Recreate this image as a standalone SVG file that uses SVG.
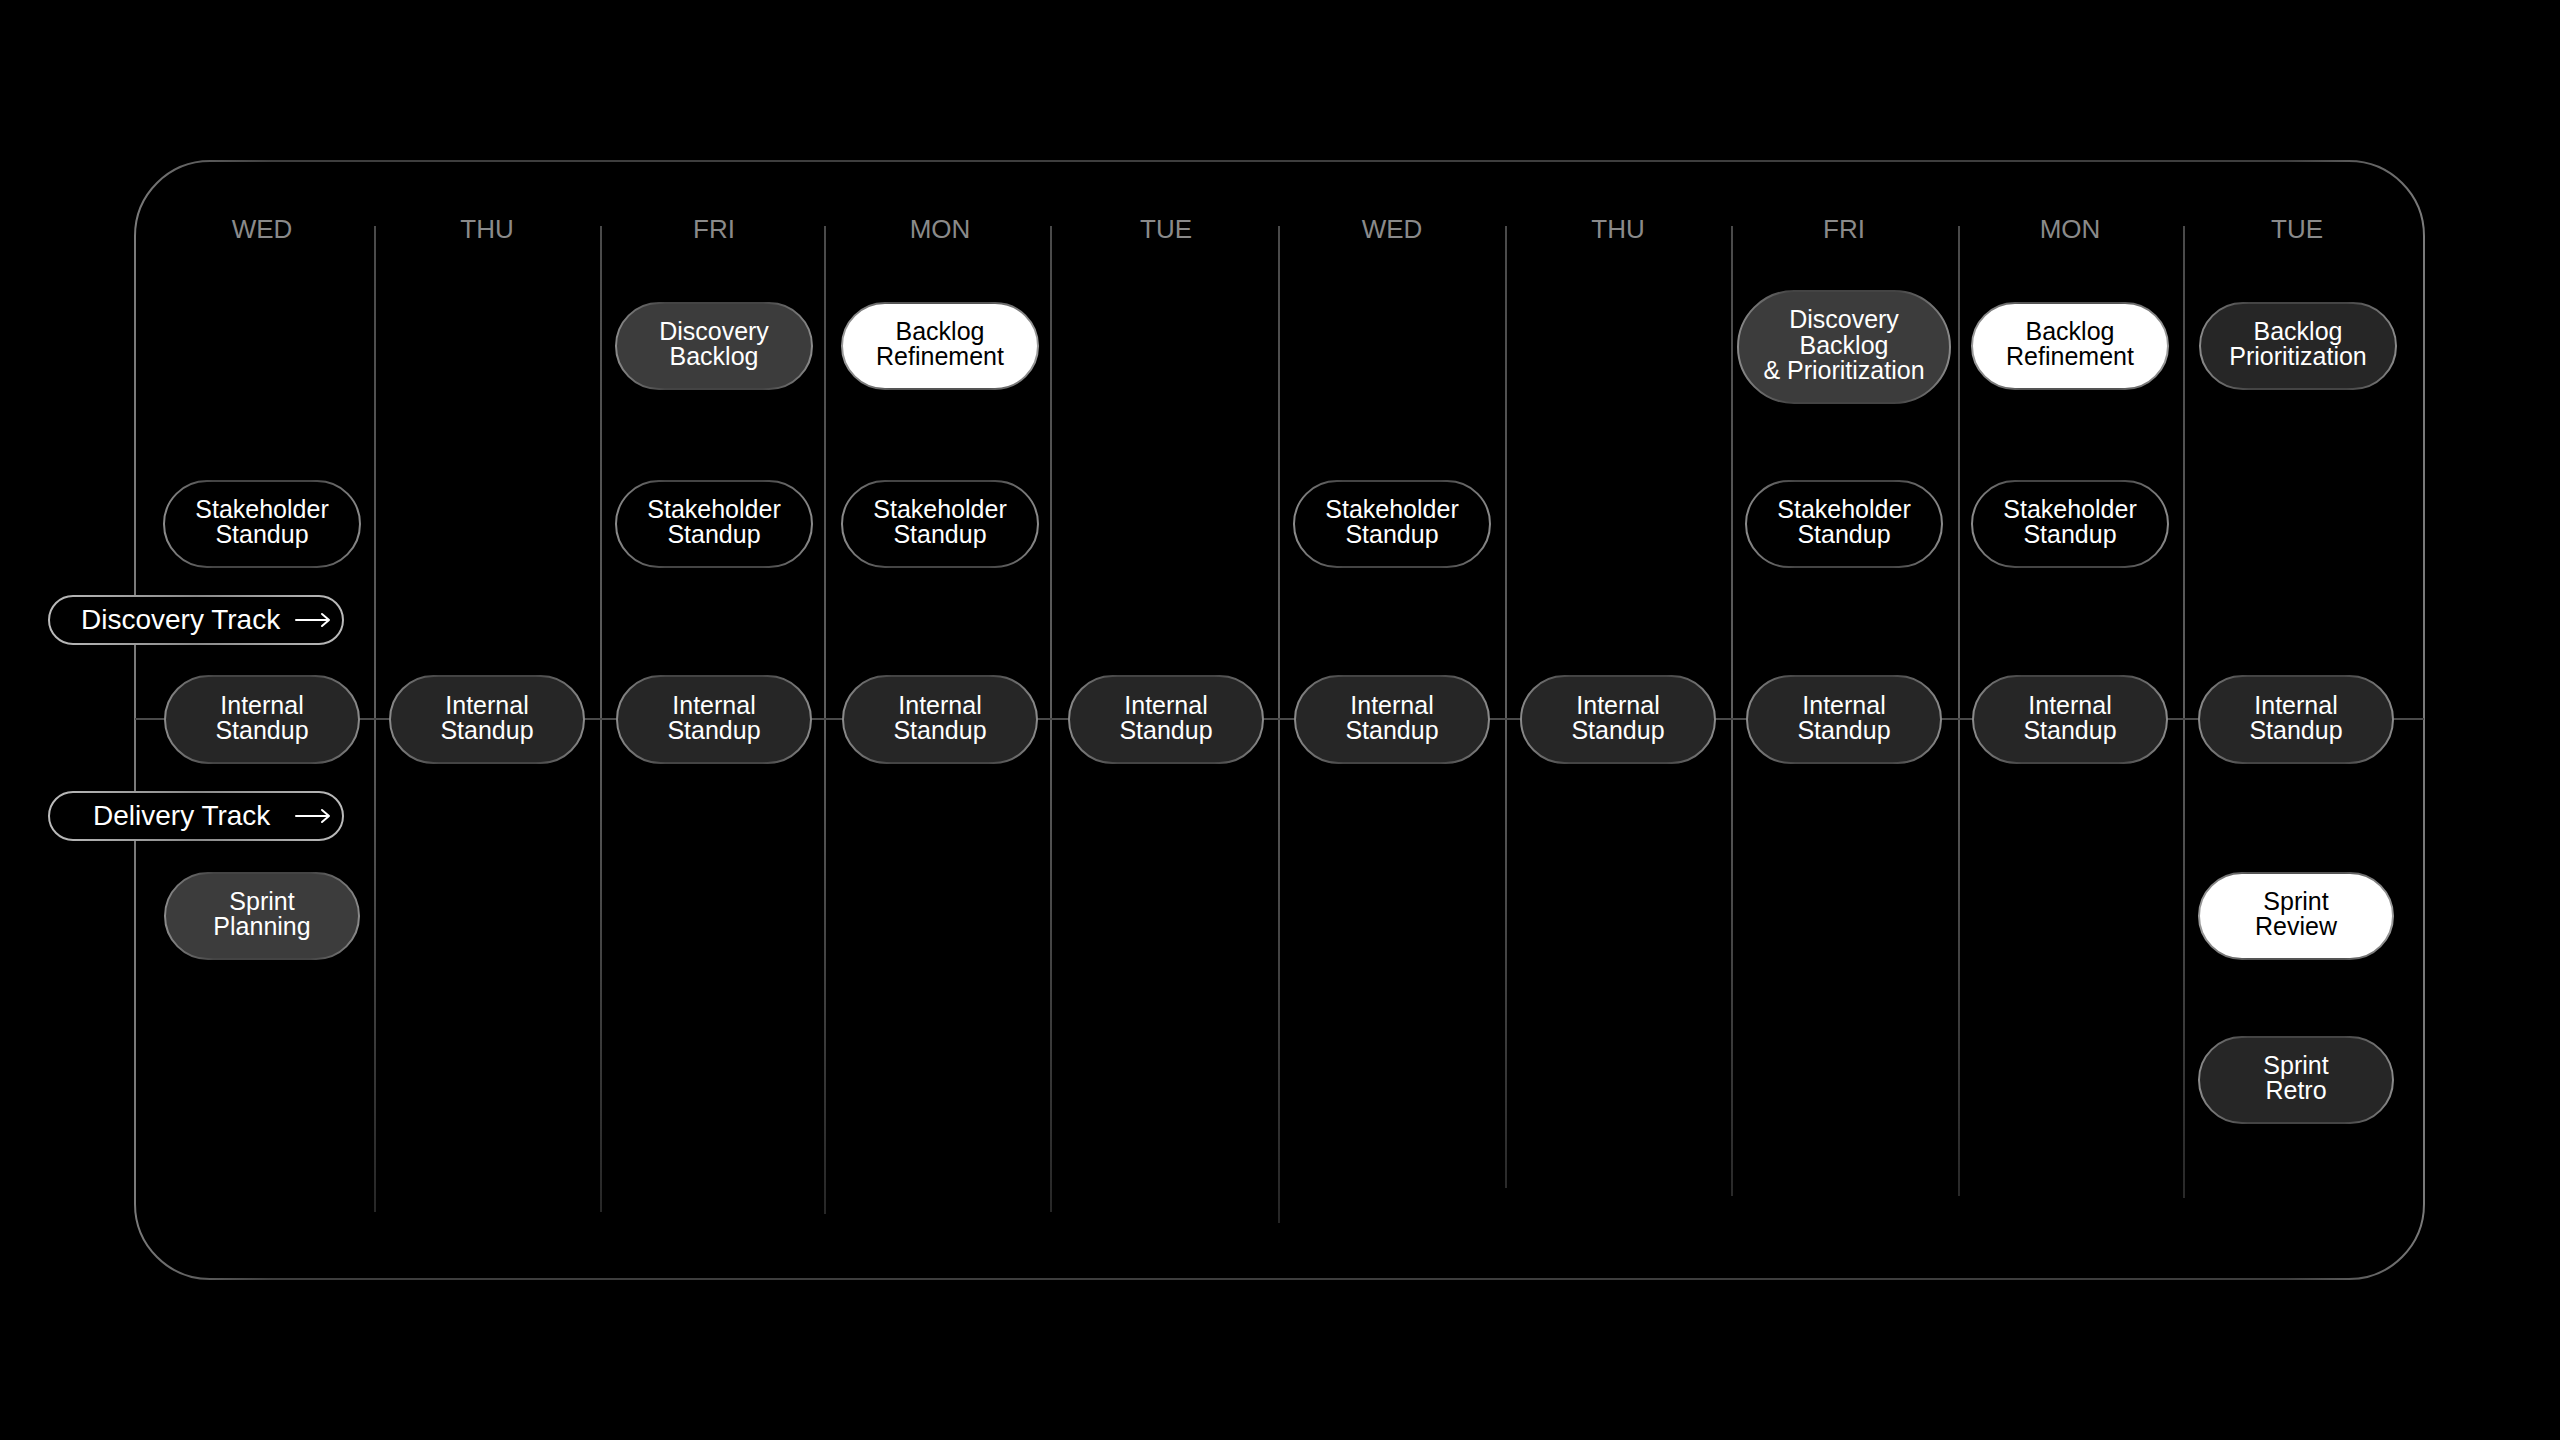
<svg xmlns="http://www.w3.org/2000/svg" width="2560" height="1440" viewBox="0 0 2560 1440">
<defs>
<linearGradient id="gDark" x1="0" y1="0" x2="1" y2="0">
<stop offset="0" stop-color="#8a8a8a"/><stop offset="0.25" stop-color="#444"/><stop offset="0.75" stop-color="#444"/><stop offset="1" stop-color="#8a8a8a"/>
</linearGradient>
<linearGradient id="gWhite" x1="0" y1="0" x2="1" y2="0">
<stop offset="0" stop-color="#9a9a9a"/><stop offset="0.25" stop-color="#555"/><stop offset="0.75" stop-color="#555"/><stop offset="1" stop-color="#9a9a9a"/>
</linearGradient>
<linearGradient id="gSep" gradientUnits="userSpaceOnUse" x1="0" y1="226" x2="0" y2="1222">
<stop offset="0" stop-color="#4a4a4a"/><stop offset="0.5" stop-color="#5e5e5e"/><stop offset="1" stop-color="#262626"/>
</linearGradient>
<linearGradient id="gFrame" x1="0" y1="0" x2="1" y2="0">
<stop offset="0" stop-color="#7a7a7a"/><stop offset="0.06" stop-color="#3e3e3e"/><stop offset="0.94" stop-color="#3e3e3e"/><stop offset="1" stop-color="#7a7a7a"/>
</linearGradient>
<linearGradient id="gTrack" x1="0" y1="0" x2="1" y2="0">
<stop offset="0" stop-color="#bbbbbb"/><stop offset="0.5" stop-color="#8a8a8a"/><stop offset="1" stop-color="#bbbbbb"/>
</linearGradient>
</defs>
<style>
.hdr{font-family:"Liberation Sans",Arial,sans-serif;font-size:26px;fill:#8a8a8a;text-anchor:middle}
.lbl{font-family:"Liberation Sans",Arial,sans-serif;font-size:25px;text-anchor:middle}
.trk{font-family:"Liberation Sans",Arial,sans-serif;font-size:28px;fill:#ffffff}
.n-dark rect{fill:#262626;stroke:url(#gDark);stroke-width:2}
.n-dark text{fill:#ffffff}
.n-mid rect{fill:#3c3c3c;stroke:url(#gDark);stroke-width:2}
.n-mid text{fill:#ffffff}
.n-black rect{fill:#000000;stroke:url(#gDark);stroke-width:2}
.n-black text{fill:#ffffff}
.n-white rect{fill:#ffffff;stroke:url(#gWhite);stroke-width:2}
.n-white text{fill:#000000}
.sep{stroke:url(#gSep);stroke-width:2}
.track rect{fill:#000;stroke:url(#gTrack);stroke-width:2}
.arrow{fill:none;stroke:#ffffff;stroke-width:2;stroke-linecap:round;stroke-linejoin:round}
</style>
<rect width="2560" height="1440" fill="#000"/>

<g id="frame">
<rect x="135" y="161" width="2289" height="1118" rx="75" fill="none" stroke="url(#gFrame)" stroke-width="2"/>
</g>

<g id="headers">
<text class="hdr" x="262" y="238">WED</text>
<text class="hdr" x="487" y="238">THU</text>
<text class="hdr" x="714" y="238">FRI</text>
<text class="hdr" x="940" y="238">MON</text>
<text class="hdr" x="1166" y="238">TUE</text>
<text class="hdr" x="1392" y="238">WED</text>
<text class="hdr" x="1618" y="238">THU</text>
<text class="hdr" x="1844" y="238">FRI</text>
<text class="hdr" x="2070" y="238">MON</text>
<text class="hdr" x="2297" y="238">TUE</text>
</g>

<g id="connectors">
<line class="sep" x1="375" y1="226" x2="375" y2="1212"/>
<line class="sep" x1="601" y1="226" x2="601" y2="1212"/>
<line class="sep" x1="825" y1="226" x2="825" y2="1214"/>
<line class="sep" x1="1051" y1="226" x2="1051" y2="1212"/>
<line class="sep" x1="1279" y1="226" x2="1279" y2="1223"/>
<line class="sep" x1="1506" y1="226" x2="1506" y2="1188"/>
<line class="sep" x1="1732" y1="226" x2="1732" y2="1196"/>
<line class="sep" x1="1959" y1="226" x2="1959" y2="1196"/>
<line class="sep" x1="2184" y1="226" x2="2184" y2="1198"/>
<line x1="135" y1="719" x2="2424" y2="719" stroke="#4a4a4a" stroke-width="2"/>
</g>

<g id="track-discovery" class="track">
<rect x="49" y="596" width="294" height="48" rx="24"/>
<text class="trk" x="81" y="629">Discovery Track</text>
<path class="arrow" d="M296 620 H329 M322 614 L329 620 L322 626"/>
</g>
<g id="track-delivery" class="track">
<rect x="49" y="792" width="294" height="48" rx="24"/>
<text class="trk" x="93" y="825">Delivery Track</text>
<path class="arrow" d="M296 816 H329 M322 810 L329 816 L322 822"/>
</g>

<!-- Top row -->
<g id="n-fri1-discovery-backlog" class="n-mid">
<rect x="616" y="303" width="196" height="86" rx="43"/>
<text class="lbl" x="714" y="340">Discovery</text>
<text class="lbl" x="714" y="365">Backlog</text>
</g>
<g id="n-mon1-backlog-refinement" class="n-white">
<rect x="842" y="303" width="196" height="86" rx="43"/>
<text class="lbl" x="940" y="340">Backlog</text>
<text class="lbl" x="940" y="365">Refinement</text>
</g>
<g id="n-fri2-discovery-backlog-prio" class="n-mid">
<rect x="1738" y="291" width="212" height="112" rx="56"/>
<text class="lbl" x="1844" y="328">Discovery</text>
<text class="lbl" x="1844" y="354">Backlog</text>
<text class="lbl" x="1844" y="379">&amp; Prioritization</text>
</g>
<g id="n-mon2-backlog-refinement" class="n-white">
<rect x="1972" y="303" width="196" height="86" rx="43"/>
<text class="lbl" x="2070" y="340">Backlog</text>
<text class="lbl" x="2070" y="365">Refinement</text>
</g>
<g id="n-tue2-backlog-prioritization" class="n-dark">
<rect x="2200" y="303" width="196" height="86" rx="43"/>
<text class="lbl" x="2298" y="340">Backlog</text>
<text class="lbl" x="2298" y="365">Prioritization</text>
</g>

<!-- Stakeholder row -->
<g id="n-wed1-stakeholder" class="n-black">
<rect x="164" y="481" width="196" height="86" rx="43"/>
<text class="lbl" x="262" y="518">Stakeholder</text>
<text class="lbl" x="262" y="543">Standup</text>
</g>
<g id="n-fri1-stakeholder" class="n-black">
<rect x="616" y="481" width="196" height="86" rx="43"/>
<text class="lbl" x="714" y="518">Stakeholder</text>
<text class="lbl" x="714" y="543">Standup</text>
</g>
<g id="n-mon1-stakeholder" class="n-black">
<rect x="842" y="481" width="196" height="86" rx="43"/>
<text class="lbl" x="940" y="518">Stakeholder</text>
<text class="lbl" x="940" y="543">Standup</text>
</g>
<g id="n-wed2-stakeholder" class="n-black">
<rect x="1294" y="481" width="196" height="86" rx="43"/>
<text class="lbl" x="1392" y="518">Stakeholder</text>
<text class="lbl" x="1392" y="543">Standup</text>
</g>
<g id="n-fri2-stakeholder" class="n-black">
<rect x="1746" y="481" width="196" height="86" rx="43"/>
<text class="lbl" x="1844" y="518">Stakeholder</text>
<text class="lbl" x="1844" y="543">Standup</text>
</g>
<g id="n-mon2-stakeholder" class="n-black">
<rect x="1972" y="481" width="196" height="86" rx="43"/>
<text class="lbl" x="2070" y="518">Stakeholder</text>
<text class="lbl" x="2070" y="543">Standup</text>
</g>

<!-- Internal standup row -->
<g id="n-wed1-internal" class="n-dark">
<rect x="165" y="676" width="194" height="87" rx="43.5"/>
<text class="lbl" x="262" y="714">Internal</text>
<text class="lbl" x="262" y="739">Standup</text>
</g>
<g id="n-thu1-internal" class="n-dark">
<rect x="390" y="676" width="194" height="87" rx="43.5"/>
<text class="lbl" x="487" y="714">Internal</text>
<text class="lbl" x="487" y="739">Standup</text>
</g>
<g id="n-fri1-internal" class="n-dark">
<rect x="617" y="676" width="194" height="87" rx="43.5"/>
<text class="lbl" x="714" y="714">Internal</text>
<text class="lbl" x="714" y="739">Standup</text>
</g>
<g id="n-mon1-internal" class="n-dark">
<rect x="843" y="676" width="194" height="87" rx="43.5"/>
<text class="lbl" x="940" y="714">Internal</text>
<text class="lbl" x="940" y="739">Standup</text>
</g>
<g id="n-tue1-internal" class="n-dark">
<rect x="1069" y="676" width="194" height="87" rx="43.5"/>
<text class="lbl" x="1166" y="714">Internal</text>
<text class="lbl" x="1166" y="739">Standup</text>
</g>
<g id="n-wed2-internal" class="n-dark">
<rect x="1295" y="676" width="194" height="87" rx="43.5"/>
<text class="lbl" x="1392" y="714">Internal</text>
<text class="lbl" x="1392" y="739">Standup</text>
</g>
<g id="n-thu2-internal" class="n-dark">
<rect x="1521" y="676" width="194" height="87" rx="43.5"/>
<text class="lbl" x="1618" y="714">Internal</text>
<text class="lbl" x="1618" y="739">Standup</text>
</g>
<g id="n-fri2-internal" class="n-dark">
<rect x="1747" y="676" width="194" height="87" rx="43.5"/>
<text class="lbl" x="1844" y="714">Internal</text>
<text class="lbl" x="1844" y="739">Standup</text>
</g>
<g id="n-mon2-internal" class="n-dark">
<rect x="1973" y="676" width="194" height="87" rx="43.5"/>
<text class="lbl" x="2070" y="714">Internal</text>
<text class="lbl" x="2070" y="739">Standup</text>
</g>
<g id="n-tue2-internal" class="n-dark">
<rect x="2199" y="676" width="194" height="87" rx="43.5"/>
<text class="lbl" x="2296" y="714">Internal</text>
<text class="lbl" x="2296" y="739">Standup</text>
</g>

<!-- Delivery rows -->
<g id="n-wed1-sprint-planning" class="n-mid">
<rect x="165" y="873" width="194" height="86" rx="43"/>
<text class="lbl" x="262" y="910">Sprint</text>
<text class="lbl" x="262" y="935">Planning</text>
</g>
<g id="n-tue2-sprint-review" class="n-white">
<rect x="2199" y="873" width="194" height="86" rx="43"/>
<text class="lbl" x="2296" y="910">Sprint</text>
<text class="lbl" x="2296" y="935">Review</text>
</g>
<g id="n-tue2-sprint-retro" class="n-dark">
<rect x="2199" y="1037" width="194" height="86" rx="43"/>
<text class="lbl" x="2296" y="1074">Sprint</text>
<text class="lbl" x="2296" y="1099">Retro</text>
</g>
</svg>
